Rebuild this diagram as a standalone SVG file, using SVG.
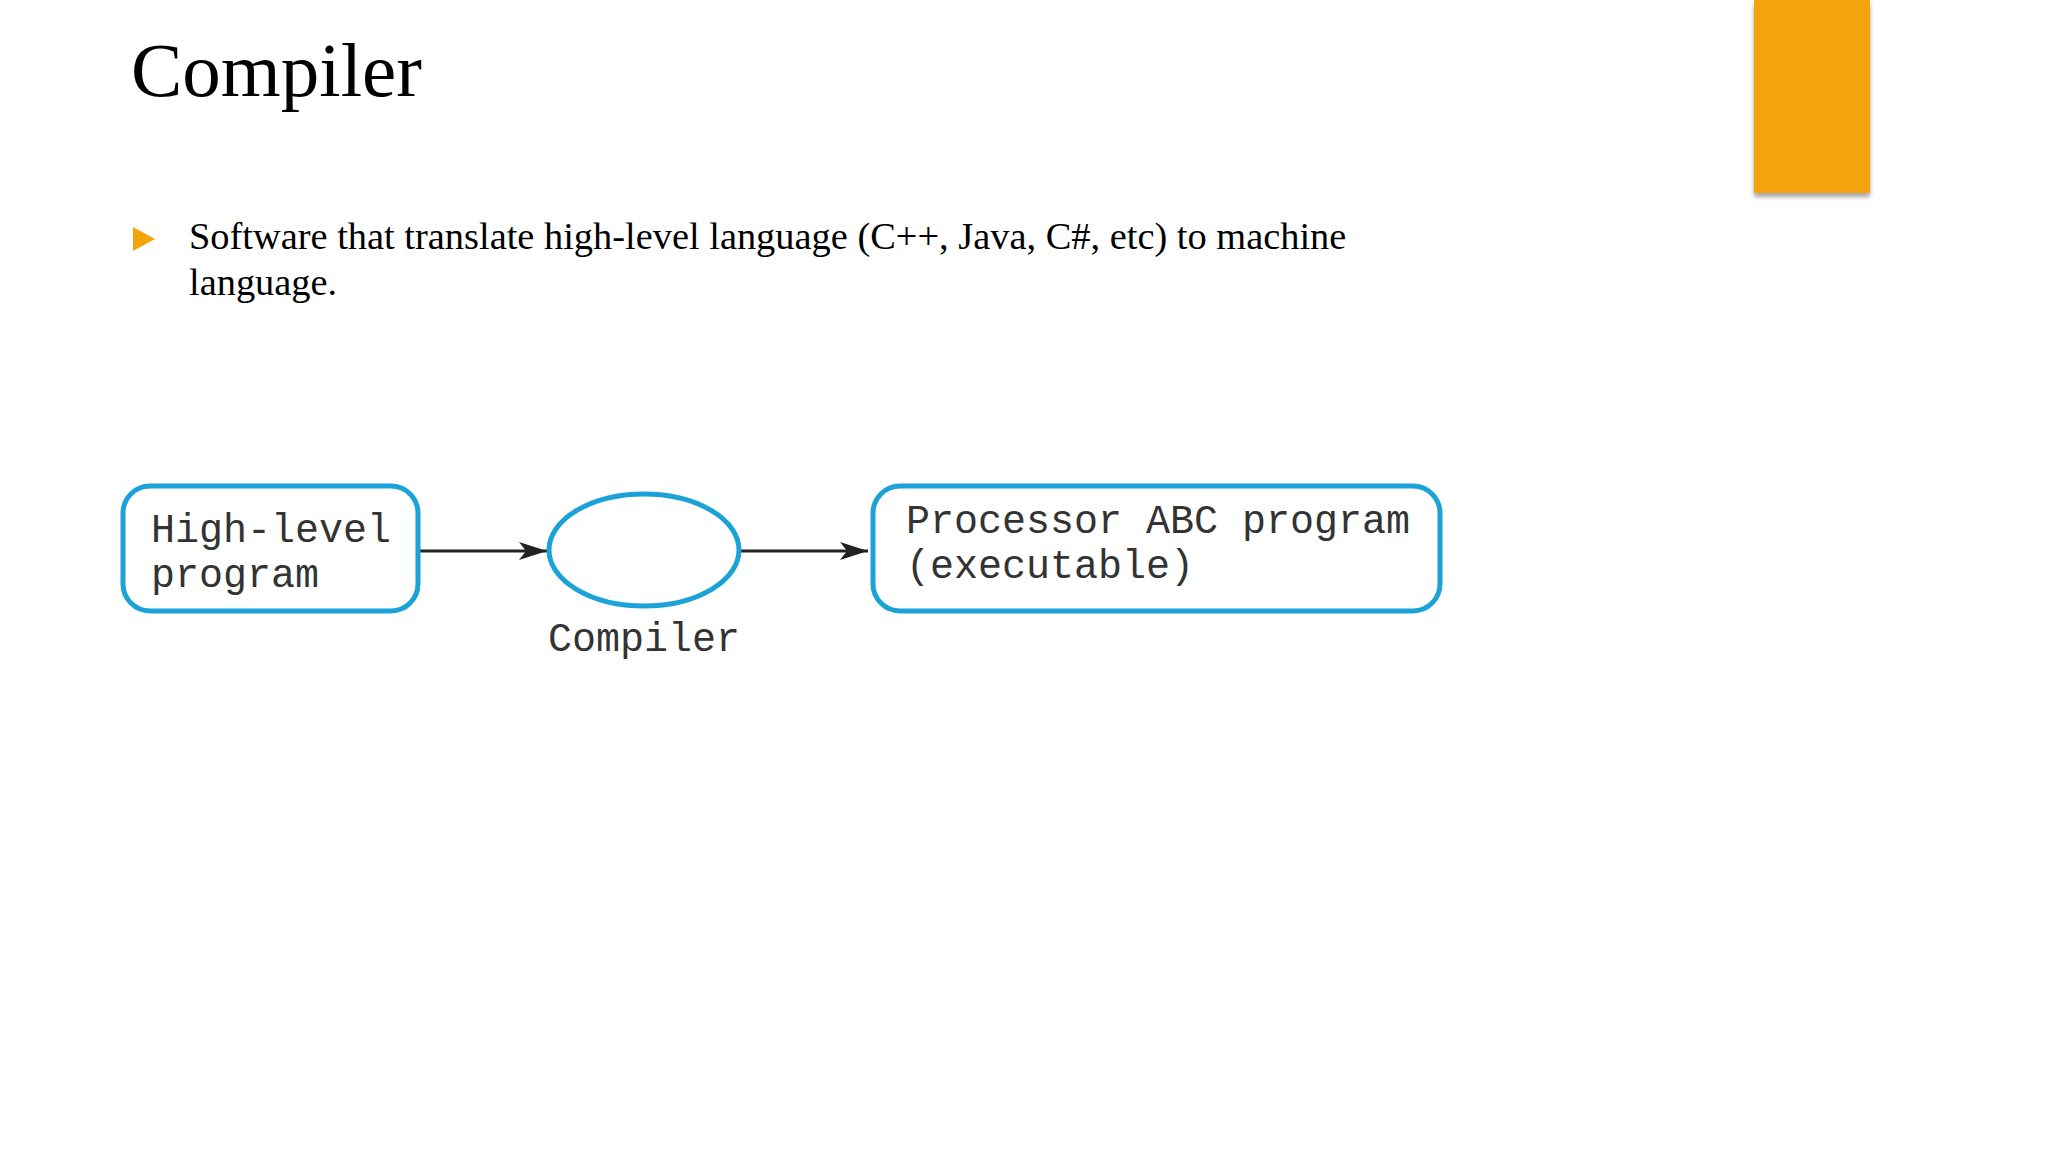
<svg xmlns="http://www.w3.org/2000/svg" width="2048" height="1152" viewBox="0 0 2048 1152">
  <defs>
    <style>
      .title { font-family: "Liberation Serif", "Times New Roman", serif; font-size: 77px; fill: #000; }
      .body { font-family: "Liberation Serif", "Times New Roman", serif; font-size: 38.4px; fill: #000; }
      .mono { font-family: "Liberation Mono", "Courier New", monospace; font-size: 40px; fill: #333; }
      .node { fill: #fff; stroke: #1ba3d8; stroke-width: 5; }
      .edge { stroke: #222; stroke-width: 3; fill: none; }
    </style>
    <marker id="arrow" markerWidth="30" markerHeight="20" refX="28" refY="10" orient="auto" markerUnits="userSpaceOnUse">
      <path d="M0,1 L28,10 L0,19 L7,10 Z" fill="#222"/>
    </marker>
    <filter id="shadow" x="-10%" y="-10%" width="120%" height="120%">
      <feDropShadow dx="0" dy="4" stdDeviation="2" flood-color="#000" flood-opacity="0.35"/>
    </filter>
  </defs>
  <rect width="2048" height="1152" fill="#fff"/>
  <rect x="1754" y="0" width="116" height="193" fill="#f5a30b" filter="url(#shadow)"/>
  <text class="title" x="131" y="96">Compiler</text>
  <polygon points="133,227 155,239 133,251" fill="#f5a30b"/>
  <text class="body" x="189" y="249">Software that translate high-level language (C++, Java, C#, etc) to machine</text>
  <text class="body" x="189" y="295">language.</text>

  <g id="connectors">
    <line class="edge" x1="420" y1="551" x2="547" y2="551" marker-end="url(#arrow)"/>
    <line class="edge" x1="739" y1="551" x2="868" y2="551" marker-end="url(#arrow)"/>
  </g>
  <g id="node-highlevel">
    <rect class="node" x="123" y="486" width="295" height="125" rx="27" ry="27"/>
    <text class="mono" x="151" y="542">High-level</text>
    <text class="mono" x="151" y="587">program</text>
  </g>
  <g id="node-compiler">
    <ellipse class="node" cx="644" cy="550" rx="95" ry="56"/>
    <text class="mono" x="548" y="651">Compiler</text>
  </g>
  <g id="node-executable">
    <rect class="node" x="873" y="486" width="567" height="125" rx="27" ry="27"/>
    <text class="mono" x="906" y="533">Processor ABC program</text>
    <text class="mono" x="906" y="578">(executable)</text>
  </g>
</svg>
